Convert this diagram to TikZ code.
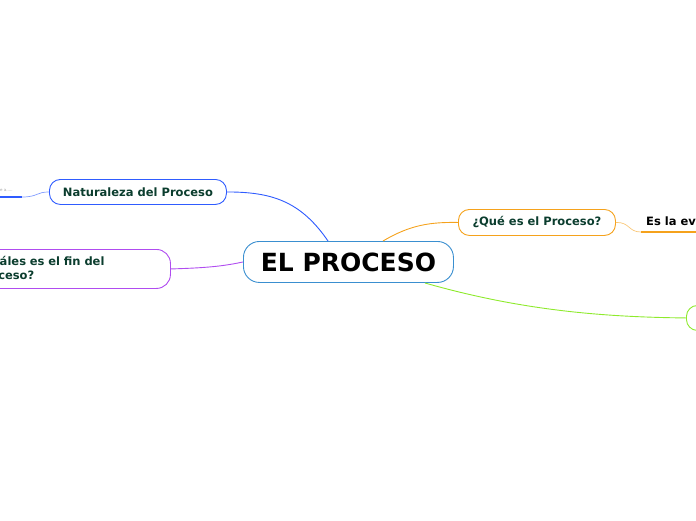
\documentclass[tikz,border=0pt]{standalone}
\usepackage{fontspec}
\setmainfont{DejaVu Sans}
\begin{document}
\begin{tikzpicture}[x=1pt,y=-1pt,
  topic/.style={draw,rounded corners=11pt,line width=0.9pt,fill=white,font=\bfseries\fontsize{11.5}{14}\selectfont,text=tx,inner sep=0pt,anchor=north west},
  link/.style={line width=0.9pt}]
\definecolor{tx}{HTML}{0B3D2E}
\useasboundingbox (0,0) rectangle (696,520);
\clip (0,0) rectangle (696,520);
\definecolor{cb}{HTML}{3A8FD0}\definecolor{nb}{HTML}{2F5CFF}
\definecolor{po}{HTML}{B04CF0}\definecolor{og}{HTML}{F5A21C}\definecolor{gr}{HTML}{8EEA2C}
\node[topic,draw=nb,minimum width=177pt,minimum height=25pt] (nat) at (49,179) {Naturaleza del Proceso};
\node[topic,draw=po,minimum width=216pt,minimum height=39pt,rounded corners=14pt,align=left,text width=200pt] (fin) at (-46,249) {\hspace*{14pt}¿Cuáles es el fin del\\\hspace*{14pt}proceso?};
\node[topic,draw=og,minimum width=157pt,minimum height=26pt] (que) at (458,209) {¿Qué es el Proceso?};
\node[topic,draw=gr,minimum width=60pt,minimum height=25pt] (gn) at (686,305) {};
\node[draw=cb,rounded corners=16pt,line width=0.9pt,fill=white,font=\bfseries\fontsize{25}{28}\selectfont,minimum width=210pt,minimum height=41pt,inner sep=0pt,anchor=north west] (c) at (243,241) {EL PROCESO};
\node[font=\bfseries\fontsize{11.5}{14}\selectfont,anchor=west,inner sep=0pt] (ev) at (646,221) {Es la ev};
\coordinate (evl) at (641,232); \coordinate (evr) at (700,232);
\draw[og,line width=1.2pt] (evl) -- (evr);
\draw[og!60,line width=0.7pt] (que.east) .. controls (630,222) and (628,232) .. (evl);
\node[font=\fontsize{4}{5}\selectfont,text=gray!70,anchor=west,inner sep=0pt] (ea) at (0,190) {e a.....};
\coordinate (nl) at (0,197); \coordinate (nr) at (22,197);
\draw[nb,line width=1.2pt] (nl) -- (nr);
\draw[nb!60,line width=0.7pt] (nr) .. controls (38,197) and (36,192) .. (nat.west);
\draw[link,nb] (328,241) .. controls (300,200) and (270,192) .. (nat.east);
\draw[link,og] (383,241) .. controls (410,225) and (430,222) .. (que.west);
\draw[link,gr] (425,283) .. controls (520,310) and (600,317) .. (gn.west);
\draw[link,po] (c.west) .. controls (220,267) and (200,268) .. (fin.east);
\end{tikzpicture}
\end{document}
